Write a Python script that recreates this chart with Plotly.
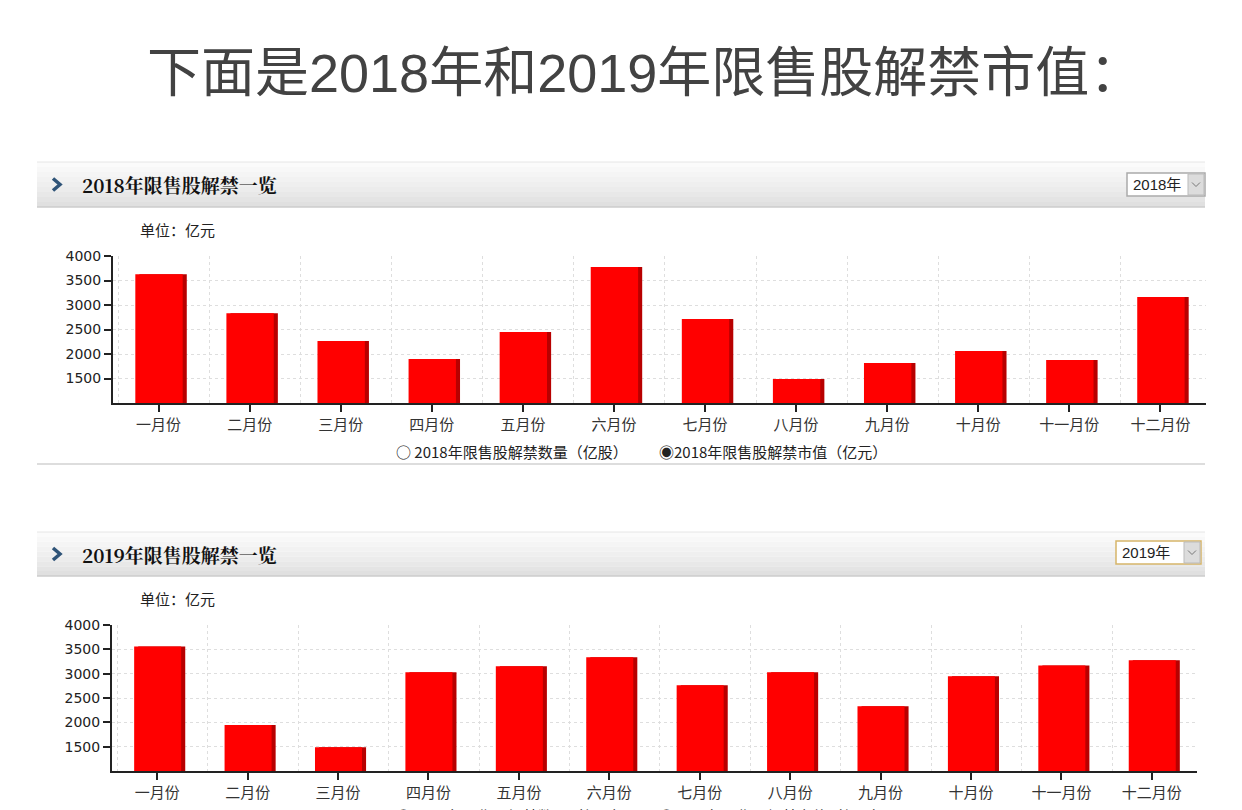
import plotly.graph_objects as go

# ---------------- data ----------------
months = ["一月份", "二月份", "三月份", "四月份", "五月份", "六月份",
          "七月份", "八月份", "九月份", "十月份", "十一月份", "十二月份"]
values_2018 = [3630, 2830, 2265, 1900, 2450, 3775, 2715, 1490, 1815, 2060, 1880, 3165]
values_2019 = [3560, 1945, 1490, 3030, 3150, 3335, 2760, 3030, 2330, 2945, 3170, 3275]
y_ticks = [1500, 2000, 2500, 3000, 3500, 4000]
y_range = [1000, 4000]

main_title = "下面是2018年和2019年限售股解禁市值："
panel_titles = ["2018年限售股解禁一览", "2019年限售股解禁一览"]
year_labels = ["2018年", "2019年"]
unit_label = "单位：亿元"
legend_2018 = ["2018年限售股解禁数量（亿股）", "2018年限售股解禁市值（亿元）"]
legend_2019 = ["2019年限售股解禁数量（亿股）", "2019年限售股解禁市值（亿元）"]

W, H = 1242, 810
def px(x): return x / W
def py(y): return 1 - y / H

CJK = "Noto Sans CJK SC, Liberation Sans, sans-serif"
NUM = "DejaVu Sans, Verdana, sans-serif"

xpos = list(range(len(months)))
fig = go.Figure()

for i, vals in enumerate([values_2018, values_2019]):
    xa = "x" if i == 0 else "x2"
    ya = "y" if i == 0 else "y2"
    # darker side face (3D look)
    fig.add_trace(go.Bar(x=xpos, y=vals, xaxis=xa, yaxis=ya, width=0.52, offset=-0.21,
                         marker=dict(color="#b80000", line=dict(width=0)),
                         hoverinfo="skip", showlegend=False))
    # front face
    fig.add_trace(go.Bar(x=xpos, y=vals, xaxis=xa, yaxis=ya, width=0.52, offset=-0.255,
                         marker=dict(color="#ff0000", line=dict(width=0)),
                         customdata=months, hovertemplate="%{customdata}: %{y}<extra></extra>",
                         showlegend=False))

def xaxis_cfg(domain):
    return dict(domain=domain, range=[-0.5, len(months) - 0.5], tickmode="array",
                tickvals=xpos, ticktext=months, ticks="outside", ticklen=7, tickwidth=1.5,
                tickcolor="#222", showline=True, linecolor="#222", linewidth=2,
                showgrid=False, zeroline=False, fixedrange=True, automargin=False,
                tickfont=dict(family=CJK, size=15, color="#333"),
                minor=dict(tickmode="linear", tick0=0.56, dtick=1, ticklen=0,
                           showgrid=True, gridcolor="#dedede", griddash="dot", gridwidth=1))

def yaxis_cfg(domain, anchor):
    return dict(domain=domain, range=y_range, tickmode="array", tickvals=y_ticks,
                ticks="outside", ticklen=7, tickwidth=1.5, tickcolor="#222",
                showline=True, linecolor="#222", linewidth=2, anchor=anchor,
                showgrid=True, gridcolor="#dedede", griddash="dot", gridwidth=1,
                zeroline=False, fixedrange=True, automargin=False,
                tickfont=dict(family=NUM, size=14, color="#222"))

fig.update_layout(
    width=W, height=H, margin=dict(l=0, r=0, t=0, b=0, autoexpand=False),
    paper_bgcolor="white", plot_bgcolor="white", barmode="overlay",
    xaxis=dict(xaxis_cfg([px(113), px(1206)]), anchor="y"),
    yaxis=yaxis_cfg([py(403), py(256)], "x"),
    xaxis2=dict(xaxis_cfg([px(112), px(1197)]), anchor="y2"),
    yaxis2=yaxis_cfg([py(771), py(625)], "x2"),
)

shapes = []
annotations = []

# main title
annotations.append(dict(x=px(645), y=py(73), xref="paper", yref="paper", text=main_title,
                        showarrow=False, xanchor="center", yanchor="middle",
                        font=dict(family="Liberation Sans, " + CJK, size=54, color="#424242")))

panels = [
    dict(top=162, bot=207, x0=37, x1=1205, dd=(1127, 1205, 173, 196), ddborder="#aaaaaa",
         unit_y=230, legend=legend_2018, leg_y=451, sep_y=464),
    dict(top=532, bot=576, x0=37, x1=1205, dd=(1116, 1201, 541, 564), ddborder="#d6b56a",
         unit_y=598, legend=legend_2019, leg_y=815, sep_y=None),
]

grad = ["#fbfbfb", "#f8f8f8", "#f5f5f5", "#f2f2f2", "#efefef", "#ececec", "#e8e8e8", "#e4e4e4", "#e0e0e0"]
for k, p in enumerate(panels):
    t, b = p["top"], p["bot"]
    n = len(grad)
    for j, c in enumerate(grad):
        y0 = t + (b - t) * j / n
        y1 = t + (b - t) * (j + 1) / n
        shapes.append(dict(type="rect", xref="paper", yref="paper", x0=px(p["x0"]), x1=px(p["x1"]),
                           y0=py(y1), y1=py(y0), fillcolor=c, line=dict(width=0), layer="below"))
    shapes.append(dict(type="line", xref="paper", yref="paper", x0=px(p["x0"]), x1=px(p["x1"]),
                       y0=py(t), y1=py(t), line=dict(color="#e6e6e6", width=1)))
    shapes.append(dict(type="line", xref="paper", yref="paper", x0=px(p["x0"]), x1=px(p["x1"]),
                       y0=py(b), y1=py(b), line=dict(color="#cccccc", width=1.5)))
    # chevron
    cy = (t + b) / 2
    shapes.append(dict(type="path", xref="paper", yref="paper",
                       path=f"M {px(53)} {py(cy-6)} L {px(60)} {py(cy)} L {px(53)} {py(cy+6)}",
                       line=dict(color="#2f5478", width=3.5)))
    annotations.append(dict(x=px(80), y=py(cy), xref="paper", yref="paper", text="<b>" + panel_titles[k] + "</b>",
                            showarrow=False, xanchor="left", yanchor="middle",
                            font=dict(family="Noto Serif CJK SC, " + CJK, size=19, color="#111")))
    # dropdown
    dx0, dx1, dy0, dy1 = p["dd"]
    shapes.append(dict(type="rect", xref="paper", yref="paper", x0=px(dx0), x1=px(dx1),
                       y0=py(dy1), y1=py(dy0), fillcolor="white", line=dict(color=p["ddborder"], width=1.5)))
    shapes.append(dict(type="rect", xref="paper", yref="paper", x0=px(dx1 - 17), x1=px(dx1 - 1),
                       y0=py(dy1 - 1), y1=py(dy0 + 1), fillcolor="#dcdcdc", line=dict(color="#bbbbbb", width=1)))
    ax = dx1 - 9
    am = (dy0 + dy1) / 2
    shapes.append(dict(type="path", xref="paper", yref="paper",
                       path=f"M {px(ax-4)} {py(am-2)} L {px(ax)} {py(am+2)} L {px(ax+4)} {py(am-2)}",
                       line=dict(color="#777", width=1)))
    annotations.append(dict(x=px(dx0 + 4), y=py(am), xref="paper", yref="paper", text=year_labels[k],
                            showarrow=False, xanchor="left", yanchor="middle",
                            font=dict(family="Liberation Sans, " + CJK, size=15, color="#222")))
    # unit
    annotations.append(dict(x=px(138), y=py(p["unit_y"]), xref="paper", yref="paper", text=unit_label,
                            showarrow=False, xanchor="left", yanchor="middle",
                            font=dict(family=CJK, size=15, color="#222")))
    # radio legend
    annotations.append(dict(x=px(394), y=py(p["leg_y"]), xref="paper", yref="paper",
                            text="○ " + p["legend"][0], showarrow=False, xanchor="left", yanchor="middle",
                            font=dict(family=CJK, size=15, color="#222")))
    annotations.append(dict(x=px(657), y=py(p["leg_y"]), xref="paper", yref="paper",
                            text="◉" + p["legend"][1], showarrow=False, xanchor="left", yanchor="middle",
                            font=dict(family=CJK, size=15, color="#222")))
    if p["sep_y"]:
        shapes.append(dict(type="line", xref="paper", yref="paper", x0=px(37), x1=px(1205),
                           y0=py(p["sep_y"]), y1=py(p["sep_y"]), line=dict(color="#dddddd", width=2)))

fig.update_layout(shapes=shapes, annotations=annotations)
fig.write_html("out.html")
